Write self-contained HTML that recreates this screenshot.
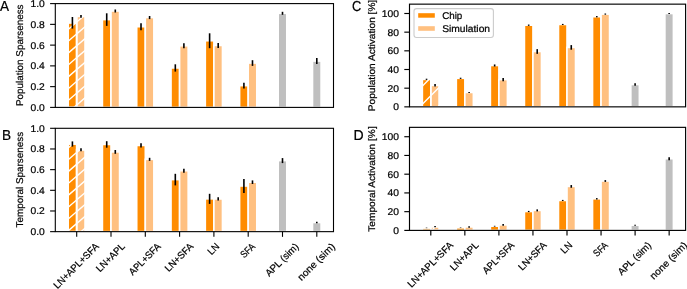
<!DOCTYPE html>
<html><head><meta charset="utf-8"><style>
html,body{margin:0;padding:0;background:#fff;}
svg{display:block;will-change:transform;}
text{font-family:"Liberation Sans",sans-serif;fill:#000;stroke:#000;stroke-width:0.22px;text-rendering:geometricPrecision;}
</style></head><body>
<svg width="687" height="289" viewBox="0 0 687 289">
<g>
<rect x="0" y="0" width="687" height="289" fill="#fff"/>
<rect x="68.12" y="22.80" width="8.57" height="84.60" fill="#ff8c00" stroke="#fff" stroke-width="1.6"/>
<clipPath id="c1"><rect x="68.12" y="22.80" width="8.57" height="84.60"/></clipPath>
<path clip-path="url(#c1)" d="M66.12 31.18L78.70 20.37M66.12 43.03L78.70 32.22M66.12 54.88L78.70 44.07M66.12 66.73L78.70 55.92M66.12 78.58L78.70 67.77M66.12 90.43L78.70 79.62M66.12 102.28L78.70 91.47M66.12 114.13L78.70 103.32" stroke="#fff" stroke-width="1.4" fill="none"/>
<rect x="68.12" y="22.80" width="8.57" height="84.60" fill="none" stroke="#fff" stroke-width="1.6"/>
<rect x="76.70" y="16.30" width="8.57" height="91.10" fill="#ffc080" stroke="#fff" stroke-width="1.6"/>
<clipPath id="c2"><rect x="76.70" y="16.30" width="8.57" height="91.10"/></clipPath>
<path clip-path="url(#c2)" d="M74.70 23.81L87.28 12.99M74.70 35.66L87.28 24.84M74.70 47.51L87.28 36.69M74.70 59.36L87.28 48.54M74.70 71.21L87.28 60.39M74.70 83.06L87.28 72.24M74.70 94.91L87.28 84.09M74.70 106.76L87.28 95.94M74.70 118.61L87.28 107.79" stroke="#fff" stroke-width="1.4" fill="none"/>
<rect x="76.70" y="16.30" width="8.57" height="91.10" fill="none" stroke="#fff" stroke-width="1.6"/>
<rect x="102.42" y="19.60" width="8.57" height="87.80" fill="#ff8c00" stroke="#fff" stroke-width="1.6"/>
<rect x="111.00" y="11.00" width="8.57" height="96.40" fill="#ffc080" stroke="#fff" stroke-width="1.6"/>
<rect x="136.73" y="26.70" width="8.57" height="80.70" fill="#ff8c00" stroke="#fff" stroke-width="1.6"/>
<rect x="145.30" y="17.55" width="8.57" height="89.85" fill="#ffc080" stroke="#fff" stroke-width="1.6"/>
<rect x="171.03" y="67.95" width="8.57" height="39.45" fill="#ff8c00" stroke="#fff" stroke-width="1.6"/>
<rect x="179.60" y="45.80" width="8.57" height="61.60" fill="#ffc080" stroke="#fff" stroke-width="1.6"/>
<rect x="205.32" y="40.75" width="8.57" height="66.65" fill="#ff8c00" stroke="#fff" stroke-width="1.6"/>
<rect x="213.90" y="45.45" width="8.57" height="61.95" fill="#ffc080" stroke="#fff" stroke-width="1.6"/>
<rect x="239.62" y="85.65" width="8.57" height="21.75" fill="#ff8c00" stroke="#fff" stroke-width="1.6"/>
<rect x="248.20" y="63.05" width="8.57" height="44.35" fill="#ffc080" stroke="#fff" stroke-width="1.6"/>
<rect x="278.21" y="13.30" width="8.57" height="94.10" fill="#bfbfbf" stroke="#fff" stroke-width="1.6"/>
<rect x="312.51" y="61.05" width="8.57" height="46.35" fill="#bfbfbf" stroke="#fff" stroke-width="1.6"/>
<line x1="72.41" y1="17.00" x2="72.41" y2="28.60" stroke="#000" stroke-width="1.6"/>
<line x1="80.99" y1="14.90" x2="80.99" y2="17.70" stroke="#000" stroke-width="1.6"/>
<line x1="106.71" y1="13.30" x2="106.71" y2="25.90" stroke="#000" stroke-width="1.6"/>
<line x1="115.29" y1="9.50" x2="115.29" y2="12.50" stroke="#000" stroke-width="1.6"/>
<line x1="141.01" y1="23.20" x2="141.01" y2="30.20" stroke="#000" stroke-width="1.6"/>
<line x1="149.59" y1="16.00" x2="149.59" y2="19.10" stroke="#000" stroke-width="1.6"/>
<line x1="175.31" y1="64.30" x2="175.31" y2="71.60" stroke="#000" stroke-width="1.6"/>
<line x1="183.89" y1="43.30" x2="183.89" y2="48.30" stroke="#000" stroke-width="1.6"/>
<line x1="209.61" y1="33.30" x2="209.61" y2="48.20" stroke="#000" stroke-width="1.6"/>
<line x1="218.19" y1="43.00" x2="218.19" y2="47.90" stroke="#000" stroke-width="1.6"/>
<line x1="243.91" y1="82.70" x2="243.91" y2="88.60" stroke="#000" stroke-width="1.6"/>
<line x1="252.49" y1="60.20" x2="252.49" y2="65.90" stroke="#000" stroke-width="1.6"/>
<line x1="282.50" y1="11.80" x2="282.50" y2="14.80" stroke="#000" stroke-width="1.6"/>
<line x1="316.80" y1="58.00" x2="316.80" y2="64.10" stroke="#000" stroke-width="1.6"/>
<rect x="55.30" y="3.60" width="278.20" height="103.80" fill="none" stroke="#000" stroke-width="1.1" stroke-linejoin="miter"/>
<line x1="50.10" y1="107.40" x2="55.30" y2="107.40" stroke="#000" stroke-width="1.1"/>
<text x="44.80" y="110.80" font-size="9.81" text-anchor="end" textLength="14.31" lengthAdjust="spacingAndGlyphs">0.0</text>
<line x1="50.10" y1="86.64" x2="55.30" y2="86.64" stroke="#000" stroke-width="1.1"/>
<text x="44.80" y="90.04" font-size="9.81" text-anchor="end" textLength="14.31" lengthAdjust="spacingAndGlyphs">0.2</text>
<line x1="50.10" y1="65.88" x2="55.30" y2="65.88" stroke="#000" stroke-width="1.1"/>
<text x="44.80" y="69.28" font-size="9.81" text-anchor="end" textLength="14.31" lengthAdjust="spacingAndGlyphs">0.4</text>
<line x1="50.10" y1="45.12" x2="55.30" y2="45.12" stroke="#000" stroke-width="1.1"/>
<text x="44.80" y="48.52" font-size="9.81" text-anchor="end" textLength="14.31" lengthAdjust="spacingAndGlyphs">0.6</text>
<line x1="50.10" y1="24.36" x2="55.30" y2="24.36" stroke="#000" stroke-width="1.1"/>
<text x="44.80" y="27.76" font-size="9.81" text-anchor="end" textLength="14.31" lengthAdjust="spacingAndGlyphs">0.8</text>
<line x1="50.10" y1="3.60" x2="55.30" y2="3.60" stroke="#000" stroke-width="1.1"/>
<text x="44.80" y="7.00" font-size="9.81" text-anchor="end" textLength="14.31" lengthAdjust="spacingAndGlyphs">1.0</text>
<text x="0.00" y="0.00" font-size="9.81" text-anchor="middle" textLength="101.63" lengthAdjust="spacingAndGlyphs" transform="translate(23.00,55.30) rotate(-90)">Population Sparseness</text>
<text x="0.00" y="10.50" font-size="14.39" text-anchor="start" textLength="9.03" lengthAdjust="spacingAndGlyphs">A</text>
<rect x="68.12" y="144.00" width="8.57" height="87.65" fill="#ff8c00" stroke="#fff" stroke-width="1.6"/>
<clipPath id="c3"><rect x="68.12" y="144.00" width="8.57" height="87.65"/></clipPath>
<path clip-path="url(#c3)" d="M66.12 149.68L78.70 138.87M66.12 161.53L78.70 150.72M66.12 173.38L78.70 162.57M66.12 185.23L78.70 174.42M66.12 197.08L78.70 186.27M66.12 208.93L78.70 198.12M66.12 220.78L78.70 209.97M66.12 232.63L78.70 221.82M66.12 244.48L78.70 233.67" stroke="#fff" stroke-width="1.4" fill="none"/>
<rect x="68.12" y="144.00" width="8.57" height="87.65" fill="none" stroke="#fff" stroke-width="1.6"/>
<rect x="76.70" y="149.75" width="8.57" height="81.90" fill="#ffc080" stroke="#fff" stroke-width="1.6"/>
<clipPath id="c4"><rect x="76.70" y="149.75" width="8.57" height="81.90"/></clipPath>
<path clip-path="url(#c4)" d="M74.70 154.16L87.28 143.34M74.70 166.01L87.28 155.19M74.70 177.86L87.28 167.04M74.70 189.71L87.28 178.89M74.70 201.56L87.28 190.74M74.70 213.41L87.28 202.59M74.70 225.26L87.28 214.44M74.70 237.11L87.28 226.29" stroke="#fff" stroke-width="1.4" fill="none"/>
<rect x="76.70" y="149.75" width="8.57" height="81.90" fill="none" stroke="#fff" stroke-width="1.6"/>
<rect x="102.42" y="144.45" width="8.57" height="87.20" fill="#ff8c00" stroke="#fff" stroke-width="1.6"/>
<rect x="111.00" y="151.90" width="8.57" height="79.75" fill="#ffc080" stroke="#fff" stroke-width="1.6"/>
<rect x="136.73" y="145.45" width="8.57" height="86.20" fill="#ff8c00" stroke="#fff" stroke-width="1.6"/>
<rect x="145.30" y="159.35" width="8.57" height="72.30" fill="#ffc080" stroke="#fff" stroke-width="1.6"/>
<rect x="171.03" y="179.60" width="8.57" height="52.05" fill="#ff8c00" stroke="#fff" stroke-width="1.6"/>
<rect x="179.60" y="170.75" width="8.57" height="60.90" fill="#ffc080" stroke="#fff" stroke-width="1.6"/>
<rect x="205.32" y="198.85" width="8.57" height="32.80" fill="#ff8c00" stroke="#fff" stroke-width="1.6"/>
<rect x="213.90" y="198.95" width="8.57" height="32.70" fill="#ffc080" stroke="#fff" stroke-width="1.6"/>
<rect x="239.62" y="186.00" width="8.57" height="45.65" fill="#ff8c00" stroke="#fff" stroke-width="1.6"/>
<rect x="248.20" y="182.20" width="8.57" height="49.45" fill="#ffc080" stroke="#fff" stroke-width="1.6"/>
<rect x="278.21" y="160.60" width="8.57" height="71.05" fill="#bfbfbf" stroke="#fff" stroke-width="1.6"/>
<rect x="312.51" y="222.50" width="8.57" height="9.15" fill="#bfbfbf" stroke="#fff" stroke-width="1.6"/>
<line x1="72.41" y1="141.40" x2="72.41" y2="146.60" stroke="#000" stroke-width="1.6"/>
<line x1="80.99" y1="148.20" x2="80.99" y2="151.30" stroke="#000" stroke-width="1.6"/>
<line x1="106.71" y1="141.20" x2="106.71" y2="147.70" stroke="#000" stroke-width="1.6"/>
<line x1="115.29" y1="150.00" x2="115.29" y2="153.80" stroke="#000" stroke-width="1.6"/>
<line x1="141.01" y1="143.30" x2="141.01" y2="147.60" stroke="#000" stroke-width="1.6"/>
<line x1="149.59" y1="157.80" x2="149.59" y2="160.90" stroke="#000" stroke-width="1.6"/>
<line x1="175.31" y1="173.80" x2="175.31" y2="185.40" stroke="#000" stroke-width="1.6"/>
<line x1="183.89" y1="168.80" x2="183.89" y2="172.70" stroke="#000" stroke-width="1.6"/>
<line x1="209.61" y1="193.80" x2="209.61" y2="203.90" stroke="#000" stroke-width="1.6"/>
<line x1="218.19" y1="197.30" x2="218.19" y2="200.60" stroke="#000" stroke-width="1.6"/>
<line x1="243.91" y1="179.10" x2="243.91" y2="192.90" stroke="#000" stroke-width="1.6"/>
<line x1="252.49" y1="180.40" x2="252.49" y2="184.00" stroke="#000" stroke-width="1.6"/>
<line x1="282.50" y1="158.10" x2="282.50" y2="163.10" stroke="#000" stroke-width="1.6"/>
<line x1="316.80" y1="221.80" x2="316.80" y2="223.20" stroke="#000" stroke-width="1.6"/>
<rect x="55.30" y="128.30" width="278.20" height="103.35" fill="none" stroke="#000" stroke-width="1.1" stroke-linejoin="miter"/>
<line x1="50.10" y1="231.65" x2="55.30" y2="231.65" stroke="#000" stroke-width="1.1"/>
<text x="44.80" y="235.05" font-size="9.81" text-anchor="end" textLength="14.31" lengthAdjust="spacingAndGlyphs">0.0</text>
<line x1="50.10" y1="210.98" x2="55.30" y2="210.98" stroke="#000" stroke-width="1.1"/>
<text x="44.80" y="214.38" font-size="9.81" text-anchor="end" textLength="14.31" lengthAdjust="spacingAndGlyphs">0.2</text>
<line x1="50.10" y1="190.31" x2="55.30" y2="190.31" stroke="#000" stroke-width="1.1"/>
<text x="44.80" y="193.71" font-size="9.81" text-anchor="end" textLength="14.31" lengthAdjust="spacingAndGlyphs">0.4</text>
<line x1="50.10" y1="169.64" x2="55.30" y2="169.64" stroke="#000" stroke-width="1.1"/>
<text x="44.80" y="173.04" font-size="9.81" text-anchor="end" textLength="14.31" lengthAdjust="spacingAndGlyphs">0.6</text>
<line x1="50.10" y1="148.97" x2="55.30" y2="148.97" stroke="#000" stroke-width="1.1"/>
<text x="44.80" y="152.37" font-size="9.81" text-anchor="end" textLength="14.31" lengthAdjust="spacingAndGlyphs">0.8</text>
<line x1="50.10" y1="128.30" x2="55.30" y2="128.30" stroke="#000" stroke-width="1.1"/>
<text x="44.80" y="131.70" font-size="9.81" text-anchor="end" textLength="14.31" lengthAdjust="spacingAndGlyphs">1.0</text>
<line x1="76.70" y1="231.65" x2="76.70" y2="236.85" stroke="#000" stroke-width="1.1"/>
<text x="0.00" y="2.50" font-size="9.81" text-anchor="middle" textLength="59.65" lengthAdjust="spacingAndGlyphs" transform="translate(76.70,266.42) rotate(-45)">LN+APL+SFA</text>
<line x1="111.00" y1="231.65" x2="111.00" y2="236.85" stroke="#000" stroke-width="1.1"/>
<text x="0.00" y="2.50" font-size="9.81" text-anchor="middle" textLength="35.89" lengthAdjust="spacingAndGlyphs" transform="translate(111.00,258.02) rotate(-45)">LN+APL</text>
<line x1="145.30" y1="231.65" x2="145.30" y2="236.85" stroke="#000" stroke-width="1.1"/>
<text x="0.00" y="2.50" font-size="9.81" text-anchor="middle" textLength="40.36" lengthAdjust="spacingAndGlyphs" transform="translate(145.30,259.60) rotate(-45)">APL+SFA</text>
<line x1="179.60" y1="231.65" x2="179.60" y2="236.85" stroke="#000" stroke-width="1.1"/>
<text x="0.00" y="2.50" font-size="9.81" text-anchor="middle" textLength="35.51" lengthAdjust="spacingAndGlyphs" transform="translate(179.60,257.89) rotate(-45)">LN+SFA</text>
<line x1="213.90" y1="231.65" x2="213.90" y2="236.85" stroke="#000" stroke-width="1.1"/>
<text x="0.00" y="2.50" font-size="9.81" text-anchor="middle" textLength="11.75" lengthAdjust="spacingAndGlyphs" transform="translate(213.90,249.48) rotate(-45)">LN</text>
<line x1="248.20" y1="231.65" x2="248.20" y2="236.85" stroke="#000" stroke-width="1.1"/>
<text x="0.00" y="2.50" font-size="9.81" text-anchor="middle" textLength="16.22" lengthAdjust="spacingAndGlyphs" transform="translate(248.20,251.07) rotate(-45)">SFA</text>
<line x1="282.50" y1="231.65" x2="282.50" y2="236.85" stroke="#000" stroke-width="1.1"/>
<text x="0.00" y="2.50" font-size="9.81" text-anchor="middle" textLength="42.44" lengthAdjust="spacingAndGlyphs" transform="translate(282.50,260.34) rotate(-45)">APL (sim)</text>
<line x1="316.80" y1="231.65" x2="316.80" y2="236.85" stroke="#000" stroke-width="1.1"/>
<text x="0.00" y="2.50" font-size="9.81" text-anchor="middle" textLength="48.29" lengthAdjust="spacingAndGlyphs" transform="translate(316.80,262.41) rotate(-45)">none (sim)</text>
<text x="0.00" y="0.00" font-size="9.81" text-anchor="middle" textLength="95.56" lengthAdjust="spacingAndGlyphs" transform="translate(23.00,179.70) rotate(-90)">Temporal Sparseness</text>
<text x="2.00" y="140.00" font-size="14.39" text-anchor="start" textLength="9.06" lengthAdjust="spacingAndGlyphs">B</text>
<rect x="422.29" y="79.30" width="8.51" height="27.55" fill="#ff8c00" stroke="#fff" stroke-width="1.6"/>
<clipPath id="c5"><rect x="422.29" y="79.30" width="8.51" height="27.55"/></clipPath>
<path clip-path="url(#c5)" d="M420.29 88.11L432.80 75.60M420.29 106.31L432.80 93.80" stroke="#fff" stroke-width="1.4" fill="none"/>
<rect x="422.29" y="79.30" width="8.51" height="27.55" fill="none" stroke="#fff" stroke-width="1.6"/>
<rect x="430.80" y="85.30" width="8.51" height="21.55" fill="#ffc080" stroke="#fff" stroke-width="1.6"/>
<clipPath id="c6"><rect x="430.80" y="85.30" width="8.51" height="21.55"/></clipPath>
<path clip-path="url(#c6)" d="M428.80 97.80L441.31 85.29M428.80 116.00L441.31 103.49" stroke="#fff" stroke-width="1.4" fill="none"/>
<rect x="430.80" y="85.30" width="8.51" height="21.55" fill="none" stroke="#fff" stroke-width="1.6"/>
<rect x="456.34" y="78.30" width="8.51" height="28.55" fill="#ff8c00" stroke="#fff" stroke-width="1.6"/>
<rect x="464.85" y="92.45" width="8.51" height="14.40" fill="#ffc080" stroke="#fff" stroke-width="1.6"/>
<rect x="490.39" y="65.50" width="8.51" height="41.35" fill="#ff8c00" stroke="#fff" stroke-width="1.6"/>
<rect x="498.90" y="79.60" width="8.51" height="27.25" fill="#ffc080" stroke="#fff" stroke-width="1.6"/>
<rect x="524.44" y="25.20" width="8.51" height="81.65" fill="#ff8c00" stroke="#fff" stroke-width="1.6"/>
<rect x="532.95" y="51.50" width="8.51" height="55.35" fill="#ffc080" stroke="#fff" stroke-width="1.6"/>
<rect x="558.49" y="24.45" width="8.51" height="82.40" fill="#ff8c00" stroke="#fff" stroke-width="1.6"/>
<rect x="567.00" y="47.40" width="8.51" height="59.45" fill="#ffc080" stroke="#fff" stroke-width="1.6"/>
<rect x="592.54" y="16.70" width="8.51" height="90.15" fill="#ff8c00" stroke="#fff" stroke-width="1.6"/>
<rect x="601.05" y="14.10" width="8.51" height="92.75" fill="#ffc080" stroke="#fff" stroke-width="1.6"/>
<rect x="630.84" y="84.50" width="8.51" height="22.35" fill="#bfbfbf" stroke="#fff" stroke-width="1.6"/>
<rect x="664.89" y="13.50" width="8.51" height="93.35" fill="#bfbfbf" stroke="#fff" stroke-width="1.6"/>
<line x1="426.54" y1="78.70" x2="426.54" y2="79.90" stroke="#000" stroke-width="1.6"/>
<line x1="435.06" y1="84.00" x2="435.06" y2="86.60" stroke="#000" stroke-width="1.6"/>
<line x1="460.59" y1="77.70" x2="460.59" y2="78.90" stroke="#000" stroke-width="1.6"/>
<line x1="469.11" y1="91.90" x2="469.11" y2="93.00" stroke="#000" stroke-width="1.6"/>
<line x1="494.64" y1="64.45" x2="494.64" y2="66.55" stroke="#000" stroke-width="1.6"/>
<line x1="503.16" y1="77.90" x2="503.16" y2="81.30" stroke="#000" stroke-width="1.6"/>
<line x1="528.69" y1="24.55" x2="528.69" y2="25.85" stroke="#000" stroke-width="1.6"/>
<line x1="537.21" y1="49.15" x2="537.21" y2="53.85" stroke="#000" stroke-width="1.6"/>
<line x1="562.74" y1="23.90" x2="562.74" y2="25.00" stroke="#000" stroke-width="1.6"/>
<line x1="571.26" y1="45.10" x2="571.26" y2="49.70" stroke="#000" stroke-width="1.6"/>
<line x1="596.79" y1="16.05" x2="596.79" y2="17.35" stroke="#000" stroke-width="1.6"/>
<line x1="605.31" y1="13.50" x2="605.31" y2="14.70" stroke="#000" stroke-width="1.6"/>
<line x1="635.10" y1="83.25" x2="635.10" y2="85.75" stroke="#000" stroke-width="1.6"/>
<line x1="669.15" y1="12.90" x2="669.15" y2="14.10" stroke="#000" stroke-width="1.6"/>
<rect x="409.50" y="4.15" width="276.10" height="102.70" fill="none" stroke="#000" stroke-width="1.15" stroke-linejoin="miter"/>
<line x1="404.30" y1="106.85" x2="409.50" y2="106.85" stroke="#000" stroke-width="1.15"/>
<text x="399.00" y="110.25" font-size="9.81" text-anchor="end" textLength="5.73" lengthAdjust="spacingAndGlyphs">0</text>
<line x1="404.30" y1="88.18" x2="409.50" y2="88.18" stroke="#000" stroke-width="1.15"/>
<text x="399.00" y="91.58" font-size="9.81" text-anchor="end" textLength="11.45" lengthAdjust="spacingAndGlyphs">20</text>
<line x1="404.30" y1="69.50" x2="409.50" y2="69.50" stroke="#000" stroke-width="1.15"/>
<text x="399.00" y="72.90" font-size="9.81" text-anchor="end" textLength="11.45" lengthAdjust="spacingAndGlyphs">40</text>
<line x1="404.30" y1="50.83" x2="409.50" y2="50.83" stroke="#000" stroke-width="1.15"/>
<text x="399.00" y="54.23" font-size="9.81" text-anchor="end" textLength="11.45" lengthAdjust="spacingAndGlyphs">60</text>
<line x1="404.30" y1="32.16" x2="409.50" y2="32.16" stroke="#000" stroke-width="1.15"/>
<text x="399.00" y="35.56" font-size="9.81" text-anchor="end" textLength="11.45" lengthAdjust="spacingAndGlyphs">80</text>
<line x1="404.30" y1="13.49" x2="409.50" y2="13.49" stroke="#000" stroke-width="1.15"/>
<text x="399.00" y="16.89" font-size="9.81" text-anchor="end" textLength="17.18" lengthAdjust="spacingAndGlyphs">100</text>
<text x="0.00" y="0.00" font-size="9.61" text-anchor="middle" textLength="111.37" lengthAdjust="spacingAndGlyphs" transform="translate(375.00,55.50) rotate(-90)">Population Activation [%]</text>
<text x="352.00" y="11.00" font-size="14.39" text-anchor="start" textLength="9.22" lengthAdjust="spacingAndGlyphs">C</text>
<rect x="422.29" y="227.90" width="8.51" height="2.50" fill="#ff8c00" stroke="#fff" stroke-width="1.6"/>
<clipPath id="c7"><rect x="422.29" y="227.90" width="8.51" height="2.50"/></clipPath>
<path clip-path="url(#c7)" d="M420.29 241.81L432.80 229.30" stroke="#fff" stroke-width="1.4" fill="none"/>
<rect x="422.29" y="227.90" width="8.51" height="2.50" fill="none" stroke="#fff" stroke-width="1.6"/>
<rect x="430.80" y="226.70" width="8.51" height="3.70" fill="#ffc080" stroke="#fff" stroke-width="1.6"/>
<clipPath id="c8"><rect x="430.80" y="226.70" width="8.51" height="3.70"/></clipPath>
<path clip-path="url(#c8)" d="M428.80 233.30L441.31 220.79" stroke="#fff" stroke-width="1.4" fill="none"/>
<rect x="430.80" y="226.70" width="8.51" height="3.70" fill="none" stroke="#fff" stroke-width="1.6"/>
<rect x="456.34" y="227.80" width="8.51" height="2.60" fill="#ff8c00" stroke="#fff" stroke-width="1.6"/>
<rect x="464.85" y="226.90" width="8.51" height="3.50" fill="#ffc080" stroke="#fff" stroke-width="1.6"/>
<rect x="490.39" y="226.20" width="8.51" height="4.20" fill="#ff8c00" stroke="#fff" stroke-width="1.6"/>
<rect x="498.90" y="224.90" width="8.51" height="5.50" fill="#ffc080" stroke="#fff" stroke-width="1.6"/>
<rect x="524.44" y="211.50" width="8.51" height="18.90" fill="#ff8c00" stroke="#fff" stroke-width="1.6"/>
<rect x="532.95" y="210.40" width="8.51" height="20.00" fill="#ffc080" stroke="#fff" stroke-width="1.6"/>
<rect x="558.49" y="200.45" width="8.51" height="29.95" fill="#ff8c00" stroke="#fff" stroke-width="1.6"/>
<rect x="567.00" y="186.40" width="8.51" height="44.00" fill="#ffc080" stroke="#fff" stroke-width="1.6"/>
<rect x="592.54" y="198.80" width="8.51" height="31.60" fill="#ff8c00" stroke="#fff" stroke-width="1.6"/>
<rect x="601.05" y="181.00" width="8.51" height="49.40" fill="#ffc080" stroke="#fff" stroke-width="1.6"/>
<rect x="630.84" y="225.25" width="8.51" height="5.15" fill="#bfbfbf" stroke="#fff" stroke-width="1.6"/>
<rect x="664.89" y="158.70" width="8.51" height="71.70" fill="#bfbfbf" stroke="#fff" stroke-width="1.6"/>
<line x1="426.54" y1="227.65" x2="426.54" y2="228.15" stroke="#000" stroke-width="1.6"/>
<line x1="435.06" y1="226.05" x2="435.06" y2="227.35" stroke="#000" stroke-width="1.6"/>
<line x1="460.59" y1="227.55" x2="460.59" y2="228.05" stroke="#000" stroke-width="1.6"/>
<line x1="469.11" y1="226.15" x2="469.11" y2="227.65" stroke="#000" stroke-width="1.6"/>
<line x1="494.64" y1="225.80" x2="494.64" y2="226.60" stroke="#000" stroke-width="1.6"/>
<line x1="503.16" y1="224.05" x2="503.16" y2="225.75" stroke="#000" stroke-width="1.6"/>
<line x1="528.69" y1="210.90" x2="528.69" y2="212.10" stroke="#000" stroke-width="1.6"/>
<line x1="537.21" y1="209.40" x2="537.21" y2="211.40" stroke="#000" stroke-width="1.6"/>
<line x1="562.74" y1="199.90" x2="562.74" y2="201.00" stroke="#000" stroke-width="1.6"/>
<line x1="571.26" y1="185.05" x2="571.26" y2="187.75" stroke="#000" stroke-width="1.6"/>
<line x1="596.79" y1="198.10" x2="596.79" y2="199.50" stroke="#000" stroke-width="1.6"/>
<line x1="605.31" y1="180.10" x2="605.31" y2="181.90" stroke="#000" stroke-width="1.6"/>
<line x1="635.10" y1="224.65" x2="635.10" y2="225.85" stroke="#000" stroke-width="1.6"/>
<line x1="669.15" y1="157.20" x2="669.15" y2="160.20" stroke="#000" stroke-width="1.6"/>
<rect x="409.50" y="127.35" width="276.10" height="103.05" fill="none" stroke="#000" stroke-width="1.15" stroke-linejoin="miter"/>
<line x1="404.30" y1="230.40" x2="409.50" y2="230.40" stroke="#000" stroke-width="1.15"/>
<text x="399.00" y="233.80" font-size="9.81" text-anchor="end" textLength="5.73" lengthAdjust="spacingAndGlyphs">0</text>
<line x1="404.30" y1="211.66" x2="409.50" y2="211.66" stroke="#000" stroke-width="1.15"/>
<text x="399.00" y="215.06" font-size="9.81" text-anchor="end" textLength="11.45" lengthAdjust="spacingAndGlyphs">20</text>
<line x1="404.30" y1="192.93" x2="409.50" y2="192.93" stroke="#000" stroke-width="1.15"/>
<text x="399.00" y="196.33" font-size="9.81" text-anchor="end" textLength="11.45" lengthAdjust="spacingAndGlyphs">40</text>
<line x1="404.30" y1="174.19" x2="409.50" y2="174.19" stroke="#000" stroke-width="1.15"/>
<text x="399.00" y="177.59" font-size="9.81" text-anchor="end" textLength="11.45" lengthAdjust="spacingAndGlyphs">60</text>
<line x1="404.30" y1="155.45" x2="409.50" y2="155.45" stroke="#000" stroke-width="1.15"/>
<text x="399.00" y="158.85" font-size="9.81" text-anchor="end" textLength="11.45" lengthAdjust="spacingAndGlyphs">80</text>
<line x1="404.30" y1="136.72" x2="409.50" y2="136.72" stroke="#000" stroke-width="1.15"/>
<text x="399.00" y="140.12" font-size="9.81" text-anchor="end" textLength="17.18" lengthAdjust="spacingAndGlyphs">100</text>
<line x1="430.80" y1="230.40" x2="430.80" y2="235.60" stroke="#000" stroke-width="1.15"/>
<text x="0.00" y="2.50" font-size="9.81" text-anchor="middle" textLength="59.65" lengthAdjust="spacingAndGlyphs" transform="translate(430.80,265.17) rotate(-45)">LN+APL+SFA</text>
<line x1="464.85" y1="230.40" x2="464.85" y2="235.60" stroke="#000" stroke-width="1.15"/>
<text x="0.00" y="2.50" font-size="9.81" text-anchor="middle" textLength="35.89" lengthAdjust="spacingAndGlyphs" transform="translate(464.85,256.77) rotate(-45)">LN+APL</text>
<line x1="498.90" y1="230.40" x2="498.90" y2="235.60" stroke="#000" stroke-width="1.15"/>
<text x="0.00" y="2.50" font-size="9.81" text-anchor="middle" textLength="40.36" lengthAdjust="spacingAndGlyphs" transform="translate(498.90,258.35) rotate(-45)">APL+SFA</text>
<line x1="532.95" y1="230.40" x2="532.95" y2="235.60" stroke="#000" stroke-width="1.15"/>
<text x="0.00" y="2.50" font-size="9.81" text-anchor="middle" textLength="35.51" lengthAdjust="spacingAndGlyphs" transform="translate(532.95,256.64) rotate(-45)">LN+SFA</text>
<line x1="567.00" y1="230.40" x2="567.00" y2="235.60" stroke="#000" stroke-width="1.15"/>
<text x="0.00" y="2.50" font-size="9.81" text-anchor="middle" textLength="11.75" lengthAdjust="spacingAndGlyphs" transform="translate(567.00,248.23) rotate(-45)">LN</text>
<line x1="601.05" y1="230.40" x2="601.05" y2="235.60" stroke="#000" stroke-width="1.15"/>
<text x="0.00" y="2.50" font-size="9.81" text-anchor="middle" textLength="16.22" lengthAdjust="spacingAndGlyphs" transform="translate(601.05,249.82) rotate(-45)">SFA</text>
<line x1="635.10" y1="230.40" x2="635.10" y2="235.60" stroke="#000" stroke-width="1.15"/>
<text x="0.00" y="2.50" font-size="9.81" text-anchor="middle" textLength="42.44" lengthAdjust="spacingAndGlyphs" transform="translate(635.10,259.09) rotate(-45)">APL (sim)</text>
<line x1="669.15" y1="230.40" x2="669.15" y2="235.60" stroke="#000" stroke-width="1.15"/>
<text x="0.00" y="2.50" font-size="9.81" text-anchor="middle" textLength="48.29" lengthAdjust="spacingAndGlyphs" transform="translate(669.15,261.16) rotate(-45)">none (sim)</text>
<text x="0.00" y="0.00" font-size="9.61" text-anchor="middle" textLength="105.41" lengthAdjust="spacingAndGlyphs" transform="translate(375.00,179.00) rotate(-90)">Temporal Activation [%]</text>
<text x="353.50" y="140.00" font-size="14.39" text-anchor="start" textLength="10.16" lengthAdjust="spacingAndGlyphs">D</text>
<rect x="414.0" y="8.6" width="79.4" height="28.9" rx="2.5" ry="2.5" fill="#fff" fill-opacity="0.8" stroke="#cccccc" stroke-width="1.1"/>
<rect x="418.2" y="13.2" width="16.6" height="4.5" fill="#ff8c00"/>
<rect x="418.2" y="26.2" width="16.6" height="4.6" fill="#ffc080"/>
<text x="442.15" y="18.80" font-size="9.81" text-anchor="start" textLength="20.20" lengthAdjust="spacingAndGlyphs">Chip</text>
<text x="442.15" y="31.80" font-size="9.81" text-anchor="start" textLength="47.94" lengthAdjust="spacingAndGlyphs">Simulation</text>
</g>
</svg>
</body></html>
